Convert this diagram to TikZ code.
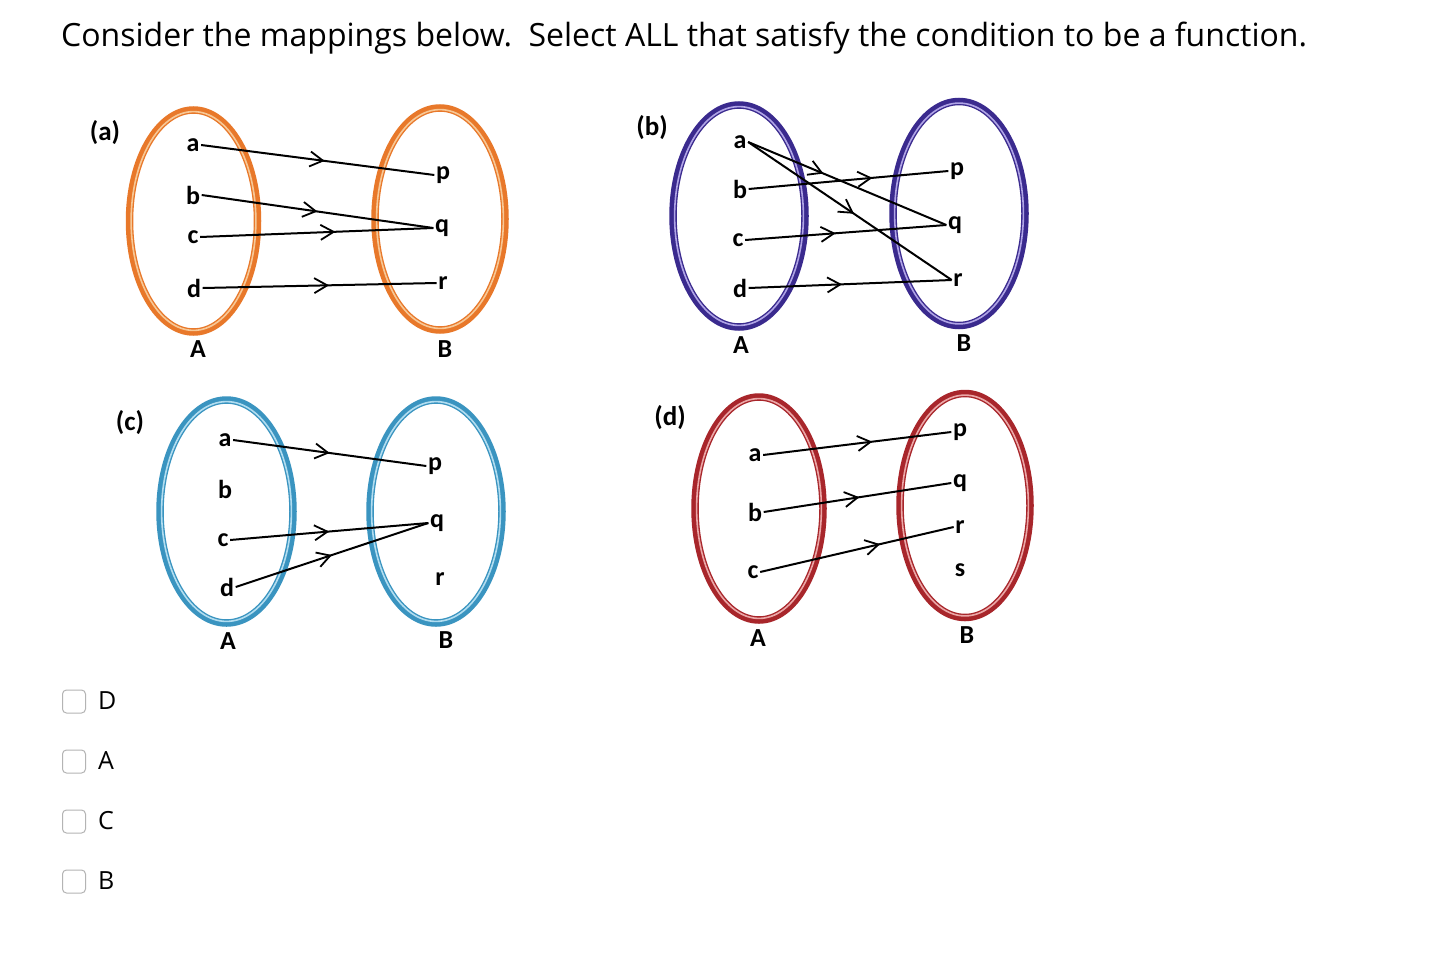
\documentclass[tikz,border=0pt]{standalone}
\usepackage{fontspec}
\setmainfont{Open Sans}
\newfontfamily\dfont{Carlito}
\usetikzlibrary{arrows.meta,decorations.markings}
\definecolor{orng}{HTML}{E8782A}
\definecolor{orngl}{HTML}{F7C896}
\definecolor{purp}{HTML}{3A2A8E}
\definecolor{purpl}{HTML}{B0A4E6}
\definecolor{blu}{HTML}{3A94C0}
\definecolor{blul}{HTML}{B2DDF0}
\definecolor{rd}{HTML}{A8262B}
\definecolor{rdl}{HTML}{EBA7A7}
\definecolor{boxgray}{HTML}{B4B4B4}
\newcommand{\setring}[6]{%
  \draw[#1, line width=7.5pt] (#3,#4) ellipse [x radius=#5pt, y radius=#6pt];
  \draw[#2, line width=1.6pt] (#3,#4) ellipse [x radius=#5pt-1.6pt, y radius=#6pt-1.6pt];
}
\tikzset{
  lbl/.style={font=\dfont\bfseries\fontsize{26}{30}\selectfont, inner sep=1.5pt},
  sub/.style={font=\dfont\bfseries\fontsize{27}{30}\selectfont, inner sep=0pt},
  conn/.style={line width=2pt, black},
  mid/.style={postaction={decorate}, decoration={markings, mark=at position #1 with {\arrow{Straight Barb[length=13pt,width=15pt,line width=1.8pt]}}}},
  chk/.style={draw=boxgray, line width=1pt, rounded corners=4pt, minimum size=23pt, inner sep=0pt},
  opt/.style={anchor=west, inner sep=0pt, font=\fontsize{25}{28}\selectfont},
}
\begin{document}
\begin{tikzpicture}[x=1pt, y=-1pt]
\useasboundingbox[fill=white] (0,0) rectangle (1434,958);
\node[anchor=base west, inner sep=0pt, font=\fontsize{32}{36}\selectfont] (title) at (61,47)
  {Consider the mappings below.\ \ Select ALL that satisfy the condition to be a function.};

% ---------- (a)
\node[sub] (la) at (105,133) {(a)};
\setring{orng}{orngl}{193.5}{221}{64}{111}
\setring{orng}{orngl}{440}{219}{65}{111}
\node[lbl] (aa) at (193,145) {a};
\node[lbl] (ab) at (193,195) {b};
\node[lbl] (ac) at (193,237) {c};
\node[lbl] (ad) at (194,288) {d};
\node[lbl] (ap) at (443,175) {p};
\node[lbl] (aq) at (442,228) {q};
\node[lbl] (ar) at (443,283) {r};
\node[lbl] (aA) at (198,349) {A};
\node[lbl] (aB) at (445,349) {B};
\draw[conn, mid=0.53] (aa.east) -- (ap.west);
\draw[conn, mid=0.50] (ab.east) -- (aq.west);
\draw[conn, mid=0.58] (ac.east) -- (aq.west);
\draw[conn, mid=0.54] (ad.east) -- (ar.west);

% ---------- (b)
\node[sub] (lb) at (652,128) {(b)};
\setring{purp}{purpl}{739}{216}{66}{111}
\setring{purp}{purpl}{959}{213.5}{66}{112}
\node[lbl] (ba) at (740,142) {a};
\node[lbl] (bb) at (740,189) {b};
\node[lbl] (bc) at (738,240) {c};
\node[lbl] (bd) at (740,288) {d};
\node[lbl] (bp) at (957,171) {p};
\node[lbl] (bq) at (955,225) {q};
\node[lbl] (br) at (958,280) {r};
\node[lbl] (bA) at (741,345) {A};
\node[lbl] (bB) at (964,343) {B};
\draw[conn, mid=0.38] (ba.east) -- (bq.west);
\draw[conn, mid=0.52] (ba.east) -- (br.west);
\draw[conn, mid=0.62] (bb.east) -- (bp.west);
\draw[conn, mid=0.45] (bc.east) -- (bq.west);
\draw[conn, mid=0.46] (bd.east) -- (br.west);

% ---------- (c)
\node[sub] (lc) at (130,423) {(c)};
\setring{blu}{blul}{226.5}{511.5}{66.5}{111.5}
\setring{blu}{blul}{436}{511.5}{66}{111.5}
\node[lbl] (ca) at (225,440) {a};
\node[lbl] (cb) at (225,489) {b};
\node[lbl] (cc) at (223,540) {c};
\node[lbl] (cd) at (227,587) {d};
\node[lbl] (cp) at (435,466) {p};
\node[lbl] (cq) at (437,523) {q};
\node[lbl] (cr) at (440,579) {r};
\node[lbl] (cA) at (228,641) {A};
\node[lbl] (cB) at (446,640) {B};
\draw[conn, mid=0.50] (ca.east) -- (cp.west);
\draw[conn, mid=0.50] (cc.east) -- (cq.west);
\draw[conn, mid=0.50] (cd.east) -- (cq.west);

% ---------- (d)
\node[sub] (ld) at (670,418) {(d)};
\setring{rd}{rdl}{759}{508.5}{64}{111.5}
\setring{rd}{rdl}{965}{505.5}{65}{112}
\node[lbl] (da) at (755,455) {a};
\node[lbl] (db) at (755,512) {b};
\node[lbl] (dc) at (753,572) {c};
\node[lbl] (dp) at (960,432) {p};
\node[lbl] (dq) at (960,483) {q};
\node[lbl] (dr) at (960,527) {r};
\node[lbl] (ds) at (960,570) {s};
\node[lbl] (dA) at (758,638) {A};
\node[lbl] (dB) at (967,635) {B};
\draw[conn, mid=0.58] (da.east) -- (dp.west);
\draw[conn, mid=0.51] (db.east) -- (dq.west);
\draw[conn, mid=0.62] (dc.east) -- (dr.west);

% ---------- options
\node[chk] (k1) at (74,701.5) {};
\node[opt] (o1) at (98,701) {D};
\node[chk] (k2) at (74,761.5) {};
\node[opt] (o2) at (98,761) {A};
\node[chk] (k3) at (74,821.5) {};
\node[opt] (o3) at (98,821) {C};
\node[chk] (k4) at (74,881.5) {};
\node[opt] (o4) at (98,881) {B};
\end{tikzpicture}
\end{document}
